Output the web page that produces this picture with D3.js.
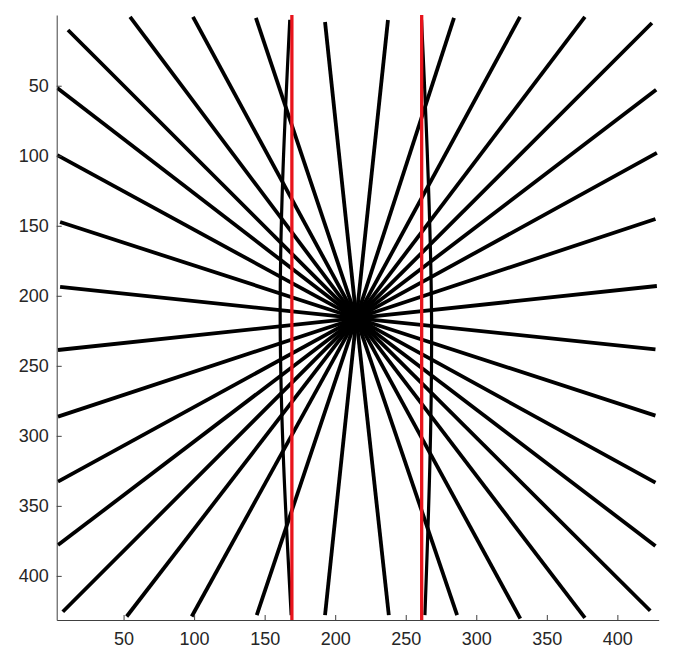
<!DOCTYPE html>
<html>
<head>
<meta charset="utf-8">
<script src="https://cdn.jsdelivr.net/npm/d3@7"></script>
<style>
  body { margin: 0; background: #fff; }
  .axis text { font-family: "Liberation Sans", Arial, sans-serif; font-size: 18px; fill: #262626; }
  .axis path, .axis line { stroke: #404040; stroke-width: 1; }
</style>
</head>
<body>
<div id="viz"></div>
<script>
var width = 677;
var height = 655;

// axis limits and ticks (image pixel coordinates)
var xLimits = [2.6, 429.3];
var yLimits = [-0.5, 431.5];
var xTicks = [50, 100, 150, 200, 250, 300, 350, 400];
var yTicks = [50, 100, 150, 200, 250, 300, 350, 400];

// centre of the fan of rays
var rayCenter = [215, 216];

// outer end of each ray, read per image edge
var topEnds = [[10.6, 10.2], [54.6, 0.9], [99.2, 0.9], [143.8, 1.6], [192.8, 4.5],
               [237.4, 3.1], [284.2, 1.6], [331, 0.9], [377, 0.9], [424.5, 5.2]];
var rightEnds = [[427.5, 52.9], [428, 98], [427, 145.2], [428, 193], [427, 238.2],
                 [427, 285.6], [427, 333.4], [427, 378.6], [423.3, 424.9]];
var bottomEnds = [[6.9, 425.6], [52.2, 429], [98.3, 429], [144.4, 428], [192.8, 428],
                  [238, 428], [286.4, 428], [331.2, 430.5], [377, 430]];
var leftEnds = [[3, 51.6], [3, 99.5], [5, 147.3], [5, 193.7], [3.5, 238.7],
                [3.5, 286.3], [3.5, 332.7], [3.5, 378]];

// bowed black lines (top, middle, bottom)
var leftCurve = [[167.8, 2.9], [161, 216], [168.8, 428]];
var rightCurve = [[261.2, 2.9], [268.3, 216], [263.6, 428]];

// straight red verticals
var redX = [169.3, 261.3];

var margin = {left: 56.7, right: 677 - 658.7, top: 15, bottom: 655 - 620};

var x = d3.scaleLinear().domain(xLimits).range([margin.left, width - margin.right]);
var y = d3.scaleLinear().domain(yLimits).range([margin.top, height - margin.bottom]);

var svg = d3.select("#viz")
    .append("svg")
      .attr("width", width)
      .attr("height", height)
      .style("background-color", "#ffffff");

svg.append("clipPath").attr("id", "plotClip")
  .append("rect")
    .attr("x", x(xLimits[0]))
    .attr("y", y(yLimits[0]))
    .attr("width", x(xLimits[1]) - x(xLimits[0]))
    .attr("height", y(yLimits[1]) - y(yLimits[0]));

var plot = svg.append("g").attr("clip-path", "url(#plotClip)");

//all rays from the centre out to the edges
var ends = topEnds.concat(rightEnds, bottomEnds, leftEnds);

plot.selectAll("line.ray")
  .data(ends)
  .join("line")
    .attr("class", "ray")
    .attr("x1", x(rayCenter[0]))
    .attr("y1", y(rayCenter[1]))
    .attr("x2", function(d) { return x(d[0]); })
    .attr("y2", function(d) { return y(d[1]); })
    .attr("stroke", "#000")
    .attr("stroke-width", 3.8);

//bowed lines
var curveLine = d3.line()
    .x(function(d) { return x(d[0]); })
    .y(function(d) { return y(d[1]); })
    .curve(d3.curveNatural);

plot.selectAll("path.bow")
  .data([leftCurve, rightCurve])
  .join("path")
    .attr("class", "bow")
    .attr("d", curveLine)
    .attr("fill", "none")
    .attr("stroke", "#000")
    .attr("stroke-width", 3.2);

//red verticals on top
plot.selectAll("line.red")
  .data(redX)
  .join("line")
    .attr("class", "red")
    .attr("x1", function(d) { return x(d); })
    .attr("x2", function(d) { return x(d); })
    .attr("y1", y(yLimits[0]))
    .attr("y2", y(yLimits[1]))
    .attr("stroke", "#e8141c")
    .attr("stroke-width", 3.3);

// axes, ticks pointing inward like matlab
svg.append("g")
    .attr("class", "axis")
    .attr("transform", "translate(0," + y(yLimits[1]) + ")")
    .call(d3.axisBottom(x).tickValues(xTicks).tickSizeInner(-5).tickSizeOuter(0).tickPadding(12));

svg.append("g")
    .attr("class", "axis")
    .attr("transform", "translate(" + x(xLimits[0]) + ",0)")
    .call(d3.axisLeft(y).tickValues(yTicks).tickSizeInner(-5).tickSizeOuter(0).tickPadding(8));
</script>
</body>
</html>
